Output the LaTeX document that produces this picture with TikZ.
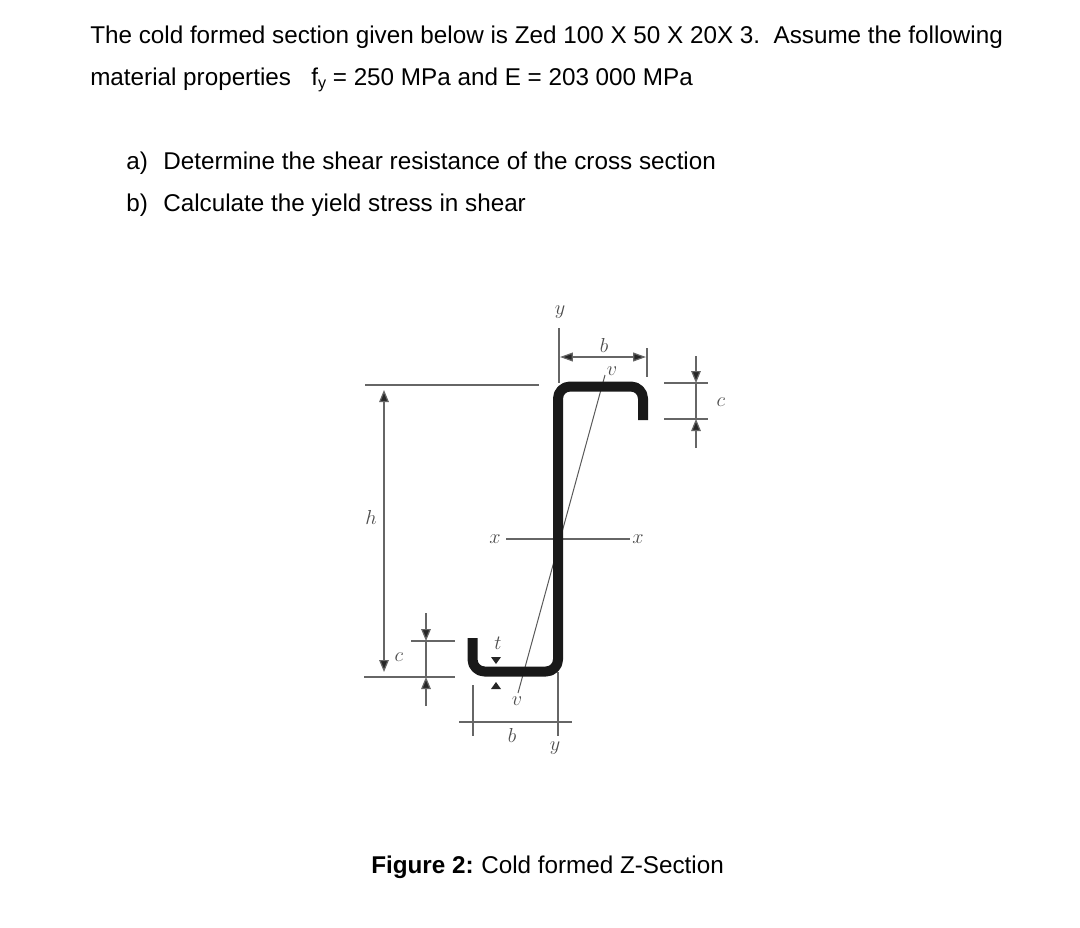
\documentclass[tikz,border=0pt]{standalone}
\usepackage{fontspec}
\setmainfont{Liberation Sans}
\usetikzlibrary{arrows.meta}

\tikzset{
  bodytext/.style={anchor=base west, inner sep=0pt, font=\fontsize{17.25}{20}\selectfont},
  dimline/.style={draw=black!60, line width=0.3mm},
  dimarrow/.style={dimline, -{Triangle[length=3mm,width=2.4mm,fill=black!85]}},
  figlabel/.style={inner sep=0pt, text=black!70, font=\fontsize{15}{17}\selectfont}
}

\begin{document}
\begin{tikzpicture}[x=0.25mm,y=-0.25mm]

% Keep the page size
\useasboundingbox (0,0) rectangle (1080,927);

% Problem statement
\node[bodytext] (line1) at (90,43.5) {The cold formed section given below is Zed 100 X 50 X 20X 3.\ \ Assume the following};
\node[bodytext] (line2) at (90,85.5) {material properties\ \ \ f\raisebox{-2pt}{\fontsize{11.5}{13}\selectfont y} = 250 MPa and E = 203 000 MPa};
\node[bodytext] (parta) at (126,169.5) {a)};
\node[bodytext] (texta) at (163,169.5) {Determine the shear resistance of the cross section};
\node[bodytext] (partb) at (126,211.5) {b)};
\node[bodytext] (textb) at (163,211.5) {Calculate the yield stress in shear};

% Caption
\node[bodytext] (caption) at (371,873.5) {\textbf{Figure 2:}\hspace{-1pt} Cold formed Z-Section};

% Axes and slanted line
\draw[dimline] (506,539) -- (630,539);
\draw[dimline] (559,328) -- (559,383);
\draw[dimline] (558,672) -- (558,736);
\draw[draw=black!65, line width=0.25mm] (605,375) -- (518,693);

% Zed section
\draw[black!90, line width=2.5mm, line join=round, rounded corners=3mm]
  (643,420) -- (643,386.5) -- (558,386.5) -- (558,671.5) -- (472.5,671.5) -- (472.5,638);

% Dimension h
\draw[dimline] (365,385) -- (539,385);
\draw[dimline] (364,677) -- (455,677);
\draw[dimarrow] (384,530) -- (384,390);
\draw[dimarrow] (384,530) -- (384,672);

% Dimension c at the top
\draw[dimline] (664,383) -- (708,383);
\draw[dimline] (664,419) -- (708,419);
\draw[dimline] (696,383) -- (696,419);
\draw[dimarrow] (696,356) -- (696,383);
\draw[dimarrow] (696,448) -- (696,419);

% Dimension c at the bottom
\draw[dimline] (411,641) -- (455,641);
\draw[dimline] (426,641) -- (426,677);
\draw[dimarrow] (426,613) -- (426,641);
\draw[dimarrow] (426,706) -- (426,677);

% Dimension b at the top
\draw[dimline] (647,348) -- (647,377);
\draw[dimline, {Triangle[length=3.2mm,width=2.2mm,fill=black!85]}-{Triangle[length=3.2mm,width=2.2mm,fill=black!85]}] (560,357) -- (646,357);

% Dimension b at the bottom
\draw[dimline] (459,722) -- (572,722);
\draw[dimline] (473,685) -- (473,736);

% Thickness t
\fill[black!85] (491,657) -- (501,657) -- (496,664) -- cycle;
\fill[black!85] (491,689) -- (501,689) -- (496,682) -- cycle;

% Labels
\node[figlabel] (ytop) at (560,312) {$y$};
\node[figlabel] (btop) at (604,345) {$b$};
\node[figlabel] (vtop) at (612,371) {$v$};
\node[figlabel] (ctop) at (721,402) {$c$};
\node[figlabel] (hlab) at (371,517) {$h$};
\node[figlabel] (xleft) at (495,539) {$x$};
\node[figlabel] (xright) at (638,539) {$x$};
\node[figlabel] (clow) at (399,657) {$c$};
\node[figlabel] (tlab) at (498,643) {$t$};
\node[figlabel] (vlow) at (517,701) {$v$};
\node[figlabel] (blow) at (512,735) {$b$};
\node[figlabel] (ylow) at (555,748) {$y$};

\end{tikzpicture}
\end{document}
